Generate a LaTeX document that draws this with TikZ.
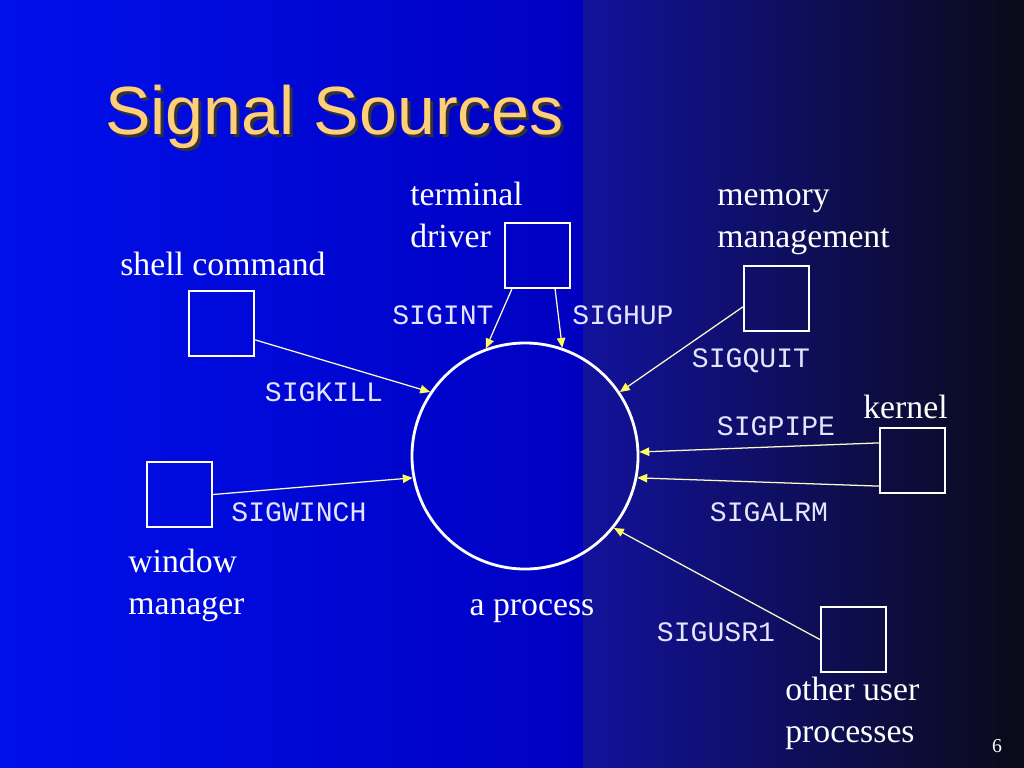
\documentclass[tikz,border=0pt]{standalone}
\usepackage{fontspec}
\setmainfont{Liberation Serif}
\setmonofont{Liberation Mono}
\newfontfamily\titlefont{Liberation Sans}
\usetikzlibrary{arrows.meta}
\definecolor{bgleft}{RGB}{0,16,236}
\definecolor{bgmid}{RGB}{0,0,192}
\definecolor{bgmidr}{RGB}{18,18,156}
\definecolor{bgright}{RGB}{10,10,24}
\definecolor{titlecol}{RGB}{255,206,120}
\definecolor{sigtxt}{RGB}{228,228,255}
\definecolor{linecol}{RGB}{250,250,205}
\definecolor{headcol}{RGB}{255,255,90}
\begin{document}
\begin{tikzpicture}[x=0.025cm,y=-0.025cm,>={Triangle[length=7pt,width=6pt,color=headcol]}]
\tikzstyle{src}=[draw=white,line width=1.2pt,minimum size=1.64cm,inner sep=0pt]
\tikzstyle{proc}=[circle,draw=white,line width=2pt,minimum size=5.65cm,inner sep=0pt]
\tikzstyle{txt}=[text=white,inner sep=0pt,anchor=base west,align=left,font=\fontsize{24}{29.2}\selectfont]
\tikzstyle{sig}=[text=sigtxt,inner sep=0pt,anchor=base,font=\ttfamily\fontsize{20}{24}\selectfont]
\tikzstyle{conn}=[draw=linecol,line width=0.9pt,->]
% background
\shade[left color=bgleft,right color=bgmid] (0,0) rectangle (583,768);
\shade[left color=bgmidr,right color=bgright] (583,0) rectangle (1024,768);
\useasboundingbox (0,0) rectangle (1024,768);
% title
\node[inner sep=0pt,anchor=base west,text=black!80,font=\titlefont\fontsize{48.5}{58}\selectfont] (tsh) at (108,138) {Signal Sources};
\node[inner sep=0pt,anchor=base west,text=titlecol,font=\titlefont\fontsize{48.5}{58}\selectfont] (title) at (105,135) {Signal Sources};
% process
\node[proc] (p) at (525,456) {};
\node[txt,anchor=base] (ptxt) at (532,615) {a process};
% sources
\node[src] (term) at (537.5,255.5) {};
\node[src] (mem) at (776.5,298.5) {};
\node[src] (shell) at (221.5,323.5) {};
\node[src] (win) at (179.5,494.5) {};
\node[src] (kern) at (912.5,460.5) {};
\node[src] (oth) at (853.5,639.5) {};
\node[txt] (termt) at (410,247) {terminal\\driver};
\node[txt] (memt) at (717,247) {memory\\management};
\node[txt] (shellt) at (120,275) {shell command};
\node[txt] (wint) at (128,614) {window\\manager};
\node[txt] (kernt) at (863,418) {kernel};
\node[txt] (otht) at (785,742) {other user\\processes};
% signals
\draw[conn] ([xshift=0.2cm]term.south west) to (p.110);
\draw[conn] ([xshift=0.44cm]term.south) to (p.71);
\draw[conn] ([yshift=-0.21cm]mem.west) to (p.34);
\draw[conn] ([yshift=-0.41cm]shell.east) to (p.146);
\draw[conn] (win.east) to (p.191);
\draw[conn] ([yshift=0.44cm]kern.west) to (p.2);
\draw[conn] ([yshift=-0.64cm]kern.west) to (p.349);
\draw[conn] (oth.west) to (p.321);
\node[sig] (sint) at (443,324) {SIGINT};
\node[sig] (shup) at (623,324) {SIGHUP};
\node[sig] (squit) at (751,367) {SIGQUIT};
\node[sig] (skill) at (324,401) {SIGKILL};
\node[sig] (swinch) at (299,521) {SIGWINCH};
\node[sig] (spipe) at (776,435) {SIGPIPE};
\node[sig] (salrm) at (769,521) {SIGALRM};
\node[sig] (susr) at (716,641) {SIGUSR1};
% page number
\node[inner sep=0pt,anchor=base,text=white,font=\fontsize{14}{16}\selectfont] (pg) at (997,752) {6};
\end{tikzpicture}
\end{document}
